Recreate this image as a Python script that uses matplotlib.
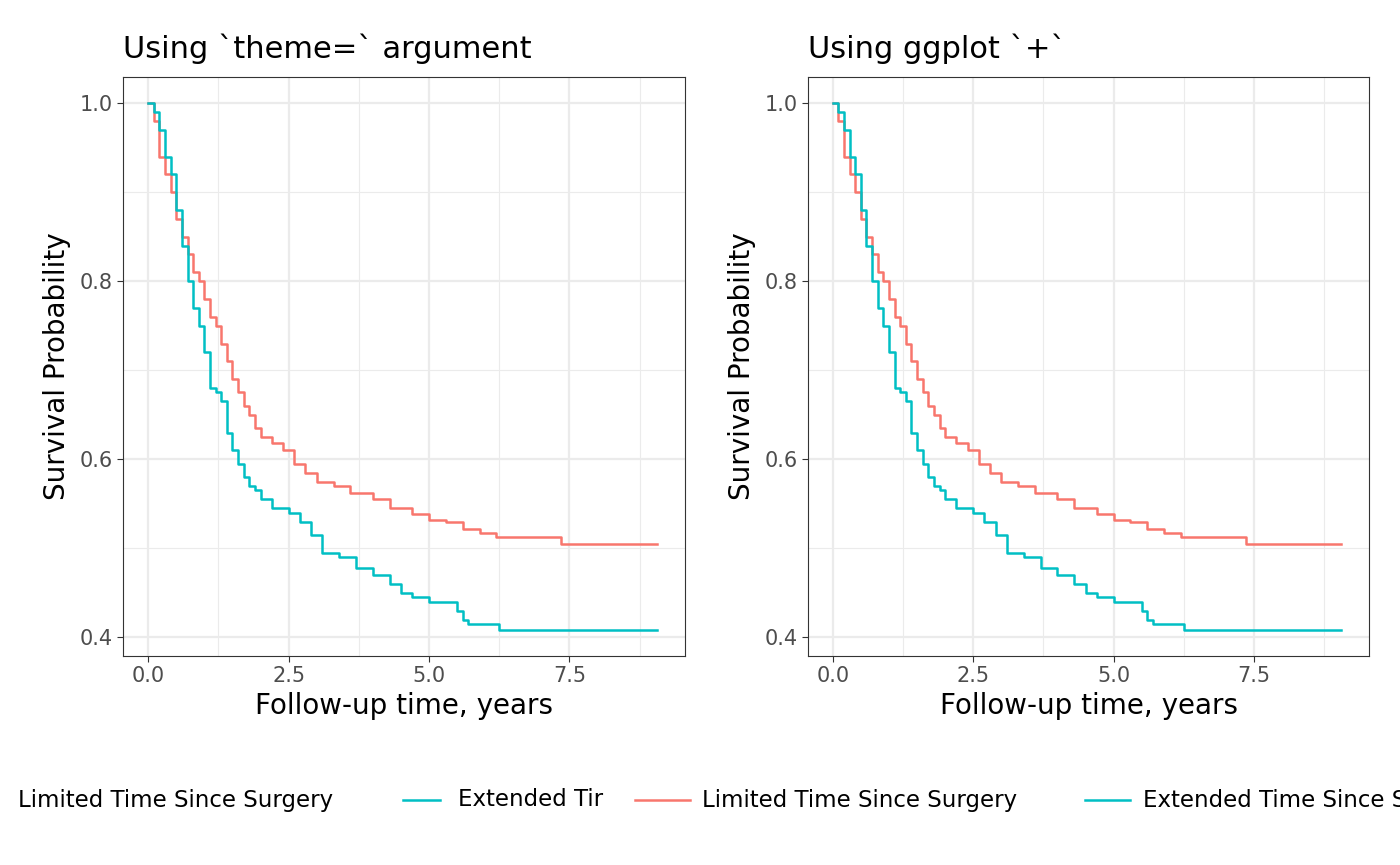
import numpy as np
import matplotlib.pyplot as plt

# Kaplan-Meier step curves
t_limited = [0, 0.1, 0.2, 0.3, 0.4, 0.5, 0.6, 0.7, 0.8, 0.9, 1.0, 1.1, 1.2, 1.3, 1.4, 1.5, 1.6, 1.7,
             1.8, 1.9, 2.0, 2.2, 2.4, 2.6, 2.8, 3.0, 3.3, 3.6, 4.0, 4.3, 4.7, 5.0, 5.3, 5.6, 5.9, 6.2, 7.35, 9.05]
s_limited = [1.0, 0.98, 0.94, 0.92, 0.90, 0.87, 0.85, 0.83, 0.81, 0.80, 0.78, 0.76, 0.75, 0.73, 0.71, 0.69,
             0.675, 0.66, 0.65, 0.635, 0.625, 0.618, 0.61, 0.595, 0.585, 0.575, 0.57, 0.562, 0.555, 0.545,
             0.538, 0.532, 0.53, 0.522, 0.517, 0.513, 0.505, 0.505]
t_extended = [0, 0.1, 0.2, 0.3, 0.4, 0.5, 0.6, 0.7, 0.8, 0.9, 1.0, 1.1, 1.2, 1.3, 1.4, 1.5, 1.6, 1.7,
              1.8, 1.9, 2.0, 2.2, 2.5, 2.7, 2.9, 3.1, 3.4, 3.7, 4.0, 4.3, 4.5, 4.7, 5.0, 5.5, 5.6, 5.7, 6.25, 9.05]
s_extended = [1.0, 0.99, 0.97, 0.94, 0.92, 0.88, 0.84, 0.80, 0.77, 0.75, 0.72, 0.68, 0.675, 0.665, 0.63,
              0.61, 0.595, 0.58, 0.57, 0.565, 0.555, 0.545, 0.54, 0.53, 0.515, 0.495, 0.49, 0.478, 0.47,
              0.46, 0.45, 0.445, 0.44, 0.43, 0.42, 0.415, 0.408, 0.408]
titles = ["Using `theme=` argument", "Using ggplot `+`"]
RED, TEAL = "#F8766D", "#00BFC4"

fig = plt.figure(figsize=(14, 8.65), dpi=100)
for i, left in enumerate([0.088, 0.577]):
    ax = fig.add_axes([left, 0.2416, 0.401, 0.669])
    ax.step(t_limited, s_limited, where="post", color=RED, lw=1.8)
    ax.step(t_extended, s_extended, where="post", color=TEAL, lw=1.8)
    ax.set_xlim(-0.445, 9.55)
    ax.set_ylim(0.379, 1.029)
    ax.set_xticks([0, 2.5, 5, 7.5])
    ax.set_xticklabels(["0.0", "2.5", "5.0", "7.5"])
    ax.set_yticks([0.4, 0.6, 0.8, 1.0])
    ax.set_xticks([1.25, 3.75, 6.25, 8.75], minor=True)
    ax.set_yticks([0.5, 0.7, 0.9], minor=True)
    ax.grid(which="major", color="#EBEBEB", lw=1.6)
    ax.grid(which="minor", color="#EBEBEB", lw=0.8)
    ax.set_axisbelow(True)
    ax.tick_params(which="both", length=0)
    ax.tick_params(which="major", length=4, color="#333333", labelsize=15, labelcolor="#4D4D4D")
    for sp in ax.spines.values():
        sp.set_color("#333333")
        sp.set_linewidth(0.8)
    ax.set_xlabel("Follow-up time, years", fontsize=20, labelpad=4)
    ax.set_ylabel("Survival Probability", fontsize=20, labelpad=6)
    ax.set_title(titles[i], fontsize=22, loc="left", pad=14)

# bottom legends (overlapping / clipped as in the reference)
y = 1 - 800 / 865
fs = 16.5
fig.text(18 / 1400, y, "Limited Time Since Surgery", fontsize=fs, va="center")
fig.add_artist(plt.Line2D([403 / 1400, 440 / 1400], [y, y], color=TEAL, lw=1.8))
fig.text(458 / 1400, y, "Extended Tir", fontsize=fs, va="center")
fig.add_artist(plt.Line2D([635 / 1400, 690 / 1400], [y, y], color=RED, lw=1.8))
fig.text(702 / 1400, y, "Limited Time Since Surgery", fontsize=fs, va="center")
fig.add_artist(plt.Line2D([1085 / 1400, 1130 / 1400], [y, y], color=TEAL, lw=1.8))
fig.text(1143 / 1400, y, "Extended Time Since Surgery", fontsize=fs, va="center")

fig.savefig("out.png", dpi=100)
